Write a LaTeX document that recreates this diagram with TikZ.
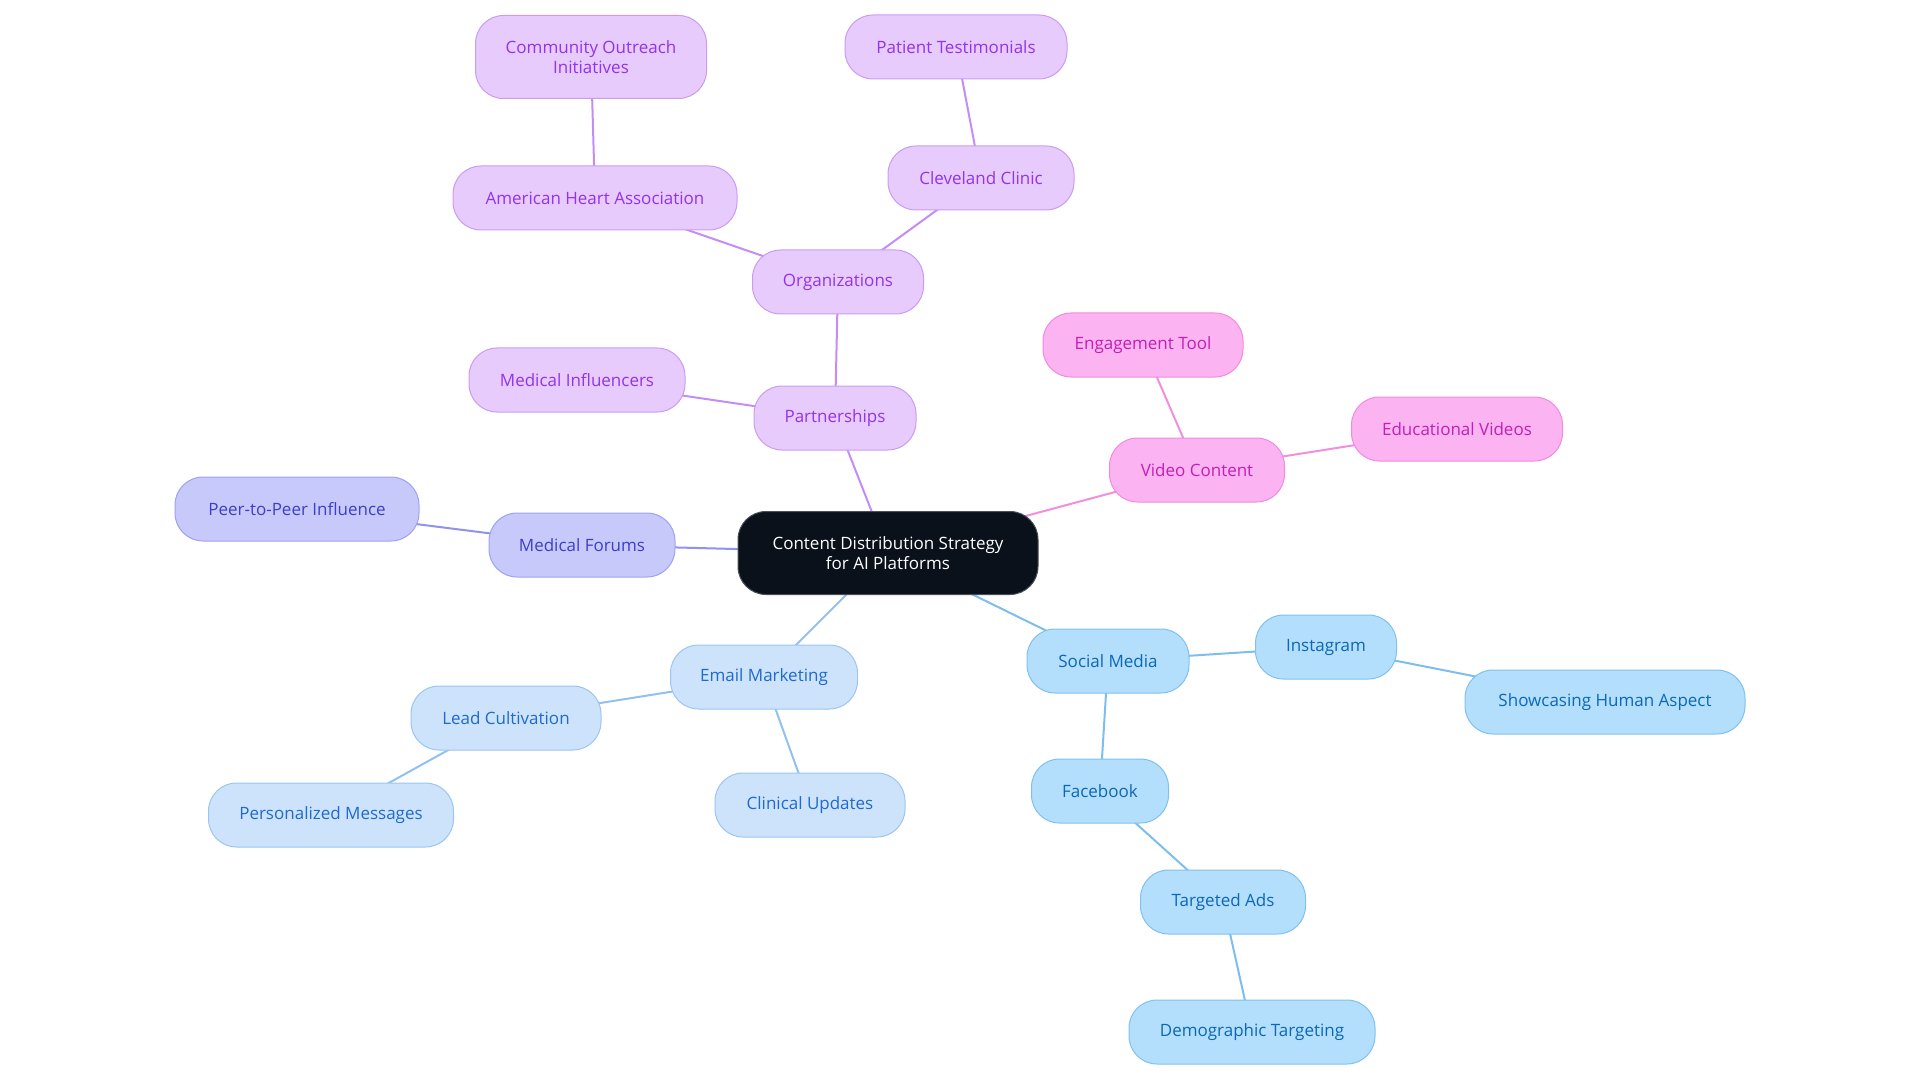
\documentclass[tikz,border=0pt]{standalone}
\usepackage{fontspec}
\setmainfont{Open Sans}
\usetikzlibrary{backgrounds}
\definecolor{ctrfill}{HTML}{0B111B}
\definecolor{ctrdraw}{HTML}{4A4F57}
\definecolor{purfill}{HTML}{E7CBFD}
\definecolor{purdraw}{HTML}{CB9BF2}
\definecolor{purtext}{HTML}{9333EA}
\definecolor{purline}{HTML}{C48DF5}
\definecolor{pinkfill}{HTML}{FBB4F1}
\definecolor{pinkdraw}{HTML}{F08ADF}
\definecolor{pinktext}{HTML}{C21FB5}
\definecolor{pinkline}{HTML}{F28EDE}
\definecolor{indfill}{HTML}{C8C9FB}
\definecolor{inddraw}{HTML}{9EA2F1}
\definecolor{indtext}{HTML}{3B3FC9}
\definecolor{indline}{HTML}{8F92EF}
\definecolor{lbfill}{HTML}{CDE3FB}
\definecolor{lbdraw}{HTML}{9CC5F1}
\definecolor{lbtext}{HTML}{1E6ACF}
\definecolor{lbline}{HTML}{93C0EF}
\definecolor{skyfill}{HTML}{B4DFFC}
\definecolor{skydraw}{HTML}{7FC1EE}
\definecolor{skytext}{HTML}{0B67B8}
\definecolor{skyline}{HTML}{7DBEEE}
\tikzset{
  box/.style={rounded corners=28pt, line width=1pt, align=center, inner sep=0pt,
    minimum height=64pt, font=\fontsize{17}{20}\selectfont},
  ctr/.style={box, fill=ctrfill, draw=ctrdraw, text=white},
  pur/.style={box, fill=purfill, draw=purdraw, text=purtext},
  pnk/.style={box, fill=pinkfill, draw=pinkdraw, text=pinktext},
  ind/.style={box, fill=indfill, draw=inddraw, text=indtext},
  lbl/.style={box, fill=lbfill, draw=lbdraw, text=lbtext},
  sky/.style={box, fill=skyfill, draw=skydraw, text=skytext},
  edge/.style={line width=2pt}
}
\begin{document}
\begin{tikzpicture}[x=1pt,y=-1pt]
\useasboundingbox (0,0) rectangle (1920,1083);
% nodes
\node[ctr, minimum width=300pt, minimum height=83pt] (c) at (888,553) {Content Distribution Strategy\\for AI Platforms};
\node[ind, minimum width=186pt] (mf) at (582,545) {Medical Forums};
\node[ind, minimum width=244pt] (ppi) at (297,509) {Peer-to-Peer Influence};
\node[pur, minimum width=162pt] (part) at (835,418) {Partnerships};
\node[pur, minimum width=216pt] (mi) at (577,380) {Medical Influencers};
\node[pur, minimum width=171pt] (org) at (838,282) {Organizations};
\node[pur, minimum width=284pt] (aha) at (595,198) {American Heart Association};
\node[pur, minimum width=231pt, minimum height=83pt] (coi) at (591,57) {Community Outreach\\Initiatives};
\node[pur, minimum width=186pt] (cc) at (981,178) {Cleveland Clinic};
\node[pur, minimum width=222pt] (pt) at (956,47) {Patient Testimonials};
\node[pnk, minimum width=175pt] (vc) at (1197,470) {Video Content};
\node[pnk, minimum width=200pt] (et) at (1143,345) {Engagement Tool};
\node[pnk, minimum width=211pt] (ev) at (1457,429) {Educational Videos};
\node[sky, minimum width=162pt] (sm) at (1108,661) {Social Media};
\node[sky, minimum width=141pt] (ig) at (1326,647) {Instagram};
\node[sky, minimum width=280pt] (sha) at (1605,702) {Showcasing Human Aspect};
\node[sky, minimum width=137pt] (fb) at (1100,791) {Facebook};
\node[sky, minimum width=165pt] (ta) at (1223,902) {Targeted Ads};
\node[sky, minimum width=246pt] (dt) at (1252,1032) {Demographic Targeting};
\node[lbl, minimum width=187pt] (em) at (764,677) {Email Marketing};
\node[lbl, minimum width=190pt] (lc) at (506,718) {Lead Cultivation};
\node[lbl, minimum width=245pt] (pm) at (331,815) {Personalized Messages};
\node[lbl, minimum width=190pt] (cu) at (810,805) {Clinical Updates};
% edges
\begin{scope}[on background layer]
\draw[edge, indline] (c.center) -- (mf.center);
\draw[edge, indline] (mf.center) -- (ppi.center);
\draw[edge, purline] (c.center) -- (part.center);
\draw[edge, purline] (part.center) -- (mi.center);
\draw[edge, purline] (part.center) -- (org.center);
\draw[edge, purline] (org.center) -- (aha.center);
\draw[edge, purline] (aha.center) -- (coi.center);
\draw[edge, purline] (org.center) -- (cc.center);
\draw[edge, purline] (cc.center) -- (pt.center);
\draw[edge, pinkline] (c.center) -- (vc.center);
\draw[edge, pinkline] (vc.center) -- (et.center);
\draw[edge, pinkline] (vc.center) -- (ev.center);
\draw[edge, skyline] (c.center) -- (sm.center);
\draw[edge, skyline] (sm.center) -- (ig.center);
\draw[edge, skyline] (ig.center) -- (sha.center);
\draw[edge, skyline] (sm.center) -- (fb.center);
\draw[edge, skyline] (fb.center) -- (ta.center);
\draw[edge, skyline] (ta.center) -- (dt.center);
\draw[edge, lbline] (c.center) -- (em.center);
\draw[edge, lbline] (em.center) -- (lc.center);
\draw[edge, lbline] (lc.center) -- (pm.center);
\draw[edge, lbline] (em.center) -- (cu.center);
\end{scope}
\end{tikzpicture}
\end{document}
